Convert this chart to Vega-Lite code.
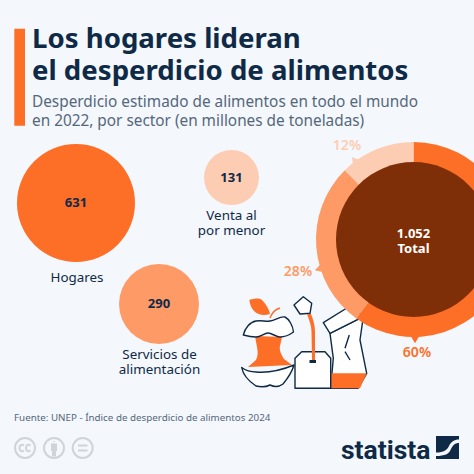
{
  "$schema": "https://vega.github.io/schema/vega-lite/v6.json",
  "width": 474,
  "height": 474,
  "padding": 0,
  "autosize": "none",
  "background": "#f4f7fb",
  "view": {"stroke": null},
  "title": {
    "text": ["Los hogares lideran", "el desperdicio de alimentos"],
    "subtitle": ["Desperdicio estimado de alimentos en todo el mundo", "en 2022, por sector (en millones de toneladas)"],
    "anchor": "start",
    "frame": "group",
    "dx": 32,
    "dy": 133.5,
    "font": "Noto Sans",
    "fontSize": 27.6,
    "fontWeight": 700,
    "lineHeight": 32,
    "color": "#0f2a47",
    "subtitleFont": "Noto Sans",
    "subtitleFontSize": 15.35,
    "subtitleLineHeight": 19.5,
    "subtitleColor": "#54687c",
    "subtitlePadding": 9
  },
  "datasets": {
    "sectors": [
      {"sector": "Hogares", "value": 631, "label": "631", "name": "Hogares", "share": "60%"},
      {"sector": "Servicios", "value": 290, "label": "290", "name": "Servicios de\nalimentación", "share": "28%"},
      {"sector": "Venta", "value": 131, "label": "131", "name": "Venta al\npor menor", "share": "12%"},
      {"sector": "Total", "value": 1052, "label": "1.052", "name": "Total", "share": ""}
    ],
    "glyphs": [
      {"part": "bar"},
      {"part": "leaf"},
      {"part": "stem"},
      {"part": "core"},
      {"part": "appleTop"},
      {"part": "appleBottom"},
      {"part": "pentagon"},
      {"part": "cup"},
      {"part": "cupBottom"},
      {"part": "cupCuff"},
      {"part": "creases"},
      {"part": "box"},
      {"part": "strip"},
      {"part": "cap"},
      {"part": "logoSquare"},
      {"part": "logoSlash"}
    ],
    "licence": [
      {"part": "ring1"},
      {"part": "ring2"},
      {"part": "ring3"},
      {"part": "lines"},
      {"part": "person"}
    ],
    "footer": [
      {"role": "fuente", "text": "Fuente: UNEP - Índice de desperdicio de alimentos 2024"}
    ],
    "logo": [
      {"role": "logo", "text": "statista"}
    ]
  },
  "resolve": {"scale": {"x": "independent", "y": "independent", "color": "independent", "fill": "independent", "stroke": "independent", "shape": "independent", "size": "independent", "angle": "independent"}},
  "layer": [
    {
      "data": {"name": "glyphs"},
      "mark": {"type": "point", "filled": false, "size": 4, "strokeWidth": 1.4, "strokeJoin": "round", "opacity": 1},
      "encoding": {
        "x": {"datum": 0, "type": "quantitative", "axis": null, "scale": {"domain": [0, 474], "range": [0, 474]}},
        "y": {"datum": 0, "type": "quantitative", "axis": null, "scale": {"domain": [0, 474], "range": [0, 474]}},
        "shape": {
          "field": "part",
          "type": "nominal",
          "legend": null,
          "scale": {
            "domain": ["bar", "leaf", "stem", "core", "appleTop", "appleBottom", "pentagon", "cup", "cupBottom", "cupCuff", "creases", "box", "strip", "cap", "logoSquare", "logoSlash"],
            "range": [
              "M14.3 28.7H25V125.7H14.3Z",
              "M249.3 300C255 298 260 298 262 300C266 304 269 309 270 314C264 316 258 315 254 311C251 308 250 304 249.3 300Z",
              "M270 318C272 313 276 309 280 308",
              "M255 336L257 347C258 352 258 356 256 360L248 367L292 365L284 359C281 354 279 350 280 346L282 337Z",
              "M243.3 335C245 328 250 322 256 321C262 320 266 322 270 321C276 320 280 316 285 317C289 319 293 326 293.5 332C288 336 284 337 280 337C276 337 272 333 268 333C264 333 261 337 256 337C251 337 247 336 243.3 335Z",
              "M241.7 367.5C245 370 250 372 256 372C268 373 282 370 294 365C292 372 288 378 283 384C279 387 274 387 270 385C266 387 260 387 256 386C250 382 243 375 241.7 367.5Z",
              "M294 305L303.3 296.7L311.7 303.3L310 313.3L300 314Z",
              "M330 333.3L363.3 316.7L360 340L366.7 373.3L358 388.3H330.7L333.3 358.3Z",
              "M330.7 373.3H366.7L360 388.3H330.7Z",
              "M323.3 322.7L351.7 305L363.3 316.7L330 333.3Z",
              "M349.3 335L345 348.3M345 351.7L350 360",
              "M295 358.3L301.7 351.7H325L330.7 358.3V388.3H295Z",
              "M307 314C309 320 311.5 325 311.5 332L312 360H315L315 332C315 325 313 319 311 314Z",
              "M309.5 360H316V363H309.5Z",
              "M436 436H459V459H436Z",
              "M436 452.5C444 452.5 447 450 449 446C451 442 454 439.5 459 439.5V443C455 443 453 445 451 449C449 454 445 456 436 456Z"
            ]
          }
        },
        "fill": {
          "field": "part",
          "type": "nominal",
          "legend": null,
          "scale": {
            "domain": ["bar", "leaf", "stem", "core", "appleTop", "appleBottom", "pentagon", "cup", "cupBottom", "cupCuff", "creases", "box", "strip", "cap", "logoSquare", "logoSlash"],
            "range": ["#fd6f27", "#fd6f27", "transparent", "#fd6f27", "#ffffff", "#ffffff", "#ffffff", "#ffffff", "#fd6f27", "#ffffff", "transparent", "#ffffff", "#fd6f27", "#0f2a47", "#0f2a47", "#f4f7fb"]
          }
        },
        "stroke": {
          "field": "part",
          "type": "nominal",
          "legend": null,
          "scale": {
            "domain": ["bar", "leaf", "stem", "core", "appleTop", "appleBottom", "pentagon", "cup", "cupBottom", "cupCuff", "creases", "box", "strip", "cap", "logoSquare", "logoSlash"],
            "range": ["transparent", "transparent", "#fd6f27", "transparent", "#0f2a47", "#0f2a47", "#0f2a47", "#0f2a47", "transparent", "#0f2a47", "#0f2a47", "#0f2a47", "transparent", "transparent", "transparent", "transparent"]
          }
        }
      }
    },
    {
      "data": {"name": "licence"},
      "mark": {"type": "point", "filled": false, "size": 4, "strokeWidth": 2, "stroke": "#d0d4d8", "opacity": 1},
      "encoding": {
        "x": {"datum": 0, "type": "quantitative", "axis": null, "scale": {"domain": [0, 474], "range": [0, 474]}},
        "y": {"datum": 0, "type": "quantitative", "axis": null, "scale": {"domain": [0, 474], "range": [0, 474]}},
        "shape": {
          "field": "part",
          "type": "nominal",
          "legend": null,
          "scale": {
            "domain": ["ring1", "ring2", "ring3", "lines", "person"],
            "range": [
              "M35 448A10 10 0 1 1 15 448A10 10 0 1 1 35 448Z",
              "M64 448A10 10 0 1 1 44 448A10 10 0 1 1 64 448Z",
              "M92.7 448A10 10 0 1 1 72.7 448A10 10 0 1 1 92.7 448Z",
              "M24 445.5C21 443.5 19.5 446 19.5 448C19.5 450 21 452.5 24 450.5M30.5 445.5C27.5 443.5 26 446 26 448C26 450 27.5 452.5 30.5 450.5M78 445.5H87.5M78 450.5H87.5",
              "M52 444.5H56V450H55V455.5H53V450H52ZM54 441V441.8"
            ]
          }
        },
        "fill": {
          "field": "part",
          "type": "nominal",
          "legend": null,
          "scale": {
            "domain": ["ring1", "ring2", "ring3", "lines", "person"],
            "range": ["transparent", "transparent", "transparent", "transparent", "#d0d4d8"]
          }
        }
      }
    },
    {
      "data": {"name": "sectors"},
      "transform": [{"filter": "datum.sector !== 'Total'"}],
      "mark": {"type": "arc", "outerRadius": 97.5, "innerRadius": 70},
      "encoding": {
        "x": {"datum": 1052, "type": "quantitative", "axis": null, "scale": {"domain": [131, 290, 631, 1052], "range": [231.5, 159, 76, 413.5]}},
        "y": {"datum": 1052, "type": "quantitative", "axis": null, "scale": {"domain": [131, 290, 631, 1052], "range": [177.5, 304, 203, 239.5]}},
        "theta": {"field": "value", "type": "quantitative", "stack": true},
        "order": {"field": "value", "sort": "descending"},
        "color": {"field": "sector", "type": "nominal", "legend": null, "scale": {"domain": ["Hogares", "Servicios", "Venta"], "range": ["#fd6f27", "#fe9a66", "#fdcdb3"]}}
      }
    },
    {
      "data": {"name": "sectors"},
      "transform": [{"filter": "datum.sector !== 'Total'"}],
      "mark": {"type": "point", "shape": "triangle-up", "filled": true, "size": 100, "opacity": 1},
      "encoding": {
        "x": {"field": "value", "type": "quantitative", "axis": null, "scale": {"domain": [131, 290, 631], "range": [354.6, 319, 415]}},
        "y": {"field": "value", "type": "quantitative", "axis": null, "scale": {"domain": [131, 290, 631], "range": [160.5, 269, 339]}},
        "angle": {"field": "value", "type": "quantitative", "legend": null, "scale": {"domain": [131, 290, 631], "range": [-36, -107, 180]}},
        "color": {"field": "sector", "type": "nominal", "legend": null, "scale": {"domain": ["Hogares", "Servicios", "Venta"], "range": ["#fd6f27", "#fe9a66", "#fdcdb3"]}}
      }
    },
    {
      "data": {"name": "sectors"},
      "transform": [{"filter": "datum.sector !== 'Total'"}],
      "mark": {"type": "text", "font": "Noto Sans", "fontSize": 14, "fontWeight": 600, "align": "center", "baseline": "middle"},
      "encoding": {
        "x": {"field": "value", "type": "quantitative", "axis": null, "scale": {"domain": [131, 290, 631], "range": [347, 298, 417]}},
        "y": {"field": "value", "type": "quantitative", "axis": null, "scale": {"domain": [131, 290, 631], "range": [146, 272, 353]}},
        "text": {"field": "share"},
        "color": {"field": "sector", "type": "nominal", "legend": null, "scale": {"domain": ["Hogares", "Servicios", "Venta"], "range": ["#fd6f27", "#fe9a66", "#fdcdb3"]}}
      }
    },
    {
      "data": {"name": "sectors"},
      "mark": {"type": "circle", "opacity": 1},
      "encoding": {
        "x": {"field": "value", "type": "quantitative", "axis": null, "scale": {"domain": [131, 290, 631, 1052], "range": [231.5, 159, 76, 413.5]}},
        "y": {"field": "value", "type": "quantitative", "axis": null, "scale": {"domain": [131, 290, 631, 1052], "range": [177.5, 304, 203, 239.5]}},
        "size": {"field": "value", "type": "quantitative", "legend": null, "scale": {"domain": [0, 131, 290, 631, 1052], "range": [0, 3025, 6400, 13924, 24025]}},
        "color": {"field": "sector", "type": "nominal", "legend": null, "scale": {"domain": ["Hogares", "Servicios", "Venta", "Total"], "range": ["#fd6f27", "#fe9a66", "#fdcdb3", "#7f2f07"]}}
      }
    },
    {
      "data": {"name": "sectors"},
      "mark": {"type": "text", "font": "Noto Sans", "fontSize": 13, "fontWeight": 700, "align": "center", "baseline": "middle"},
      "encoding": {
        "x": {"field": "value", "type": "quantitative", "axis": null, "scale": {"domain": [131, 290, 631, 1052], "range": [231.5, 159, 76, 413.5]}},
        "y": {"field": "value", "type": "quantitative", "axis": null, "scale": {"domain": [131, 290, 631, 1052], "range": [177.5, 304, 203, 234]}},
        "text": {"field": "label"},
        "color": {"field": "sector", "type": "nominal", "legend": null, "scale": {"domain": ["Hogares", "Servicios", "Venta", "Total"], "range": ["#0f2a47", "#0f2a47", "#0f2a47", "#ffffff"]}}
      }
    },
    {
      "data": {"name": "sectors"},
      "transform": [{"filter": "datum.sector !== 'Total'"}],
      "mark": {"type": "text", "font": "Noto Sans", "fontSize": 13.4, "align": "center", "baseline": "alphabetic", "lineBreak": "\n", "lineHeight": 15, "color": "#0f2a47"},
      "encoding": {
        "x": {"field": "value", "type": "quantitative", "axis": null, "scale": {"domain": [131, 290, 631], "range": [231.5, 159.5, 77]}},
        "y": {"field": "value", "type": "quantitative", "axis": null, "scale": {"domain": [131, 290, 631], "range": [220, 359, 282]}},
        "text": {"field": "name"}
      }
    },
    {
      "data": {"name": "sectors"},
      "transform": [{"filter": "datum.sector === 'Total'"}],
      "mark": {"type": "text", "font": "Noto Sans", "fontSize": 13, "fontWeight": 700, "align": "center", "baseline": "alphabetic", "color": "#ffffff"},
      "encoding": {
        "x": {"field": "value", "type": "quantitative", "axis": null, "scale": {"domain": [0, 1052], "range": [0, 413.5]}},
        "y": {"field": "value", "type": "quantitative", "axis": null, "scale": {"domain": [0, 1052], "range": [0, 253]}},
        "text": {"field": "name"}
      }
    },
    {
      "data": {"name": "footer"},
      "mark": {"type": "text", "font": "Noto Sans", "fontSize": 9.8, "align": "left", "baseline": "alphabetic", "color": "#54687c"},
      "encoding": {
        "x": {"field": "role", "type": "nominal", "axis": null, "scale": {"type": "point", "domain": ["fuente"], "range": [14, 14]}},
        "y": {"field": "role", "type": "nominal", "axis": null, "scale": {"type": "point", "domain": ["fuente"], "range": [420.5, 420.5]}},
        "text": {"field": "text"}
      }
    },
    {
      "data": {"name": "logo"},
      "mark": {"type": "text", "font": "Roboto", "fontSize": 26.5, "fontWeight": 700, "align": "left", "baseline": "alphabetic", "color": "#0f2a47"},
      "encoding": {
        "x": {"field": "role", "type": "nominal", "axis": null, "scale": {"type": "point", "domain": ["logo"], "range": [341, 341]}},
        "y": {"field": "role", "type": "nominal", "axis": null, "scale": {"type": "point", "domain": ["logo"], "range": [459, 459]}},
        "text": {"field": "text"}
      }
    }
  ]
}
